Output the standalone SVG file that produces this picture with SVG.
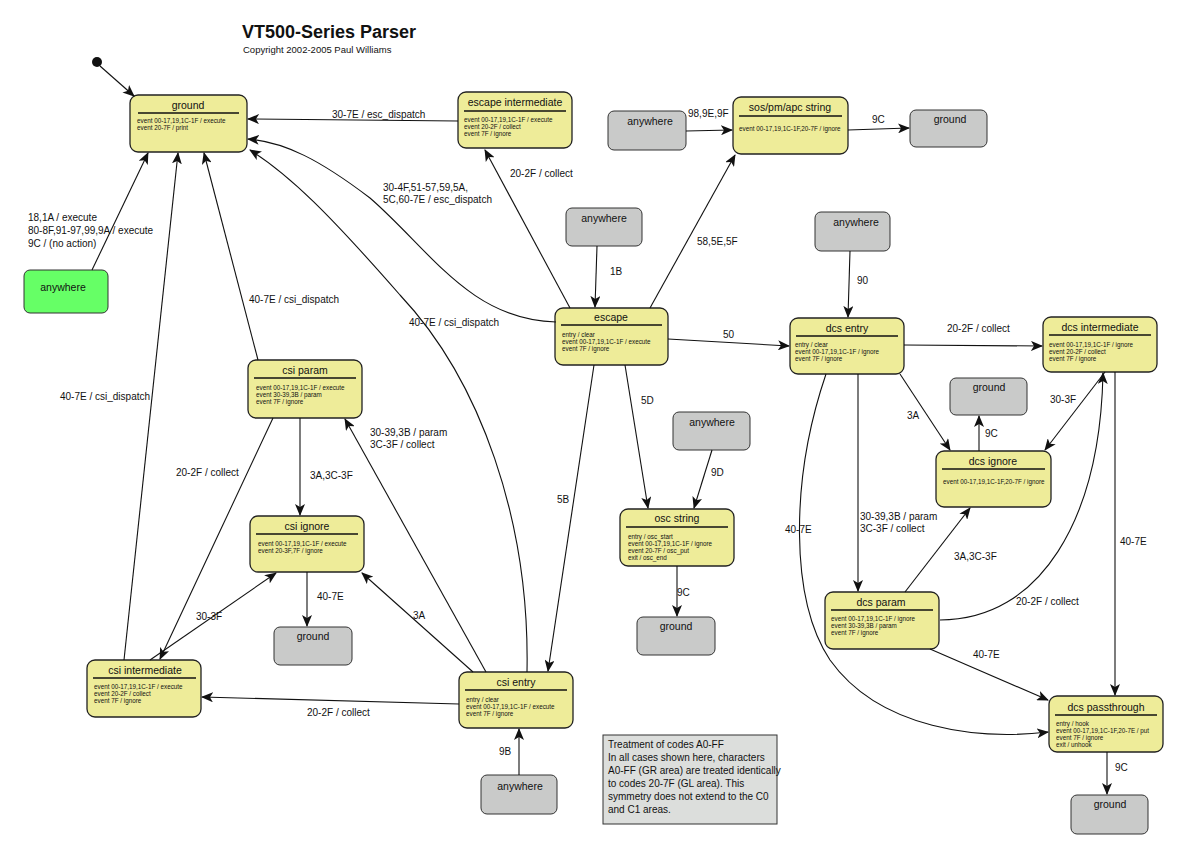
<svg xmlns="http://www.w3.org/2000/svg" width="1200" height="849" viewBox="0 0 1200 849">
<style>
text{font-family:"Liberation Sans",Arial,sans-serif;fill:#111}
.s{fill:#eeec99;stroke:#222;stroke-width:1.3}
.g{fill:#c9cac9;stroke:#333;stroke-width:1}
.t{font-size:10.5px;text-anchor:middle}
.b{font-size:6.3px}
.r{stroke:#111;stroke-width:1.3}
.l{font-size:10px}
.e path,.e line{fill:none;stroke:#111;stroke-width:1.1;marker-end:url(#a)}
</style>
<defs><marker id="a" viewBox="0 0 12 10" refX="11" refY="5" markerWidth="12" markerHeight="10" markerUnits="userSpaceOnUse" orient="auto"><path d="M0,0L12,5L0,10L3,5z" fill="#111"/></marker></defs>
<rect width="1200" height="849" fill="#fff"/>
<text x="242" y="38" font-size="18" font-weight="bold">VT500-Series Parser</text>
<text x="243" y="53" font-size="9.5">Copyright 2002-2005 Paul Williams</text>
<circle cx="97" cy="62" r="5" fill="#111"/>

<g id="ground"><rect class="s" x="130" y="95" width="117" height="57" rx="8"/><text class="t" x="188" y="109">ground</text><line class="r" x1="138" y1="113" x2="239" y2="113"/><text class="b" x="137" y="123">event 00-17,19,1C-1F / execute</text><text class="b" x="137" y="130">event 20-7F / print</text></g>
<g id="escint"><rect class="s" x="458" y="92" width="114" height="56" rx="8"/><text class="t" x="515" y="106">escape intermediate</text><line class="r" x1="464" y1="111" x2="566" y2="111"/><text class="b" x="464" y="122">event 00-17,19,1C-1F / execute</text><text class="b" x="464" y="129">event 20-2F / collect</text><text class="b" x="464" y="136">event 7F / ignore</text></g>
<g id="sos"><rect class="s" x="733" y="97" width="115" height="57" rx="8"/><text class="t" x="790" y="111">sos/pm/apc string</text><line class="r" x1="739" y1="116" x2="842" y2="116"/><text class="b" x="739" y="131">event 00-17,19,1C-1F,20-7F / ignore</text></g>
<g id="g2"><rect class="g" x="910" y="110" width="77" height="37" rx="6"/><text class="t" x="950" y="123">ground</text></g>
<g id="any1"><rect class="g" x="608" y="111" width="78" height="39" rx="6"/><text class="t" x="650" y="125">anywhere</text></g>
<g id="any2"><rect class="g" x="566" y="208" width="76" height="38" rx="6"/><text class="t" x="604" y="222">anywhere</text></g>
<g id="anyg"><rect x="24" y="270" width="84" height="43" rx="6" fill="#66ff66" stroke="#333"/><text class="t" x="63" y="291">anywhere</text></g>
<g id="any3"><rect class="g" x="815" y="212" width="75" height="39" rx="6"/><text class="t" x="856" y="226">anywhere</text></g>
<g id="escape"><rect class="s" x="555" y="308" width="113" height="57" rx="8"/><text class="t" x="611" y="321">escape</text><line class="r" x1="561" y1="325" x2="662" y2="325"/><text class="b" x="562" y="337">entry / clear</text><text class="b" x="562" y="344">event 00-17,19,1C-1F / execute</text><text class="b" x="562" y="351">event 7F / ignore</text></g>
<g id="dcsentry"><rect class="s" x="790" y="318" width="114" height="56" rx="8"/><text class="t" x="847" y="332">dcs entry</text><line class="r" x1="796" y1="336" x2="898" y2="336"/><text class="b" x="795" y="347">entry / clear</text><text class="b" x="795" y="354">event 00-17,19,1C-1F / ignore</text><text class="b" x="795" y="361">event 7F / ignore</text></g>
<g id="dcsint"><rect class="s" x="1043" y="317" width="114" height="55" rx="8"/><text class="t" x="1100" y="331">dcs intermediate</text><line class="r" x1="1049" y1="335" x2="1151" y2="335"/><text class="b" x="1049" y="347">event 00-17,19,1C-1F / ignore</text><text class="b" x="1049" y="354">event 20-2F / collect</text><text class="b" x="1049" y="361">event 7F / ignore</text></g>
<g id="g3"><rect class="g" x="950" y="378" width="77" height="37" rx="6"/><text class="t" x="989" y="391">ground</text></g>
<g id="dcsign"><rect class="s" x="936" y="451" width="115" height="56" rx="8"/><text class="t" x="993" y="465">dcs ignore</text><line class="r" x1="942" y1="469" x2="1045" y2="469"/><text class="b" x="943" y="484">event 00-17,19,1C-1F,20-7F / ignore</text></g>
<g id="csiparam"><rect class="s" x="248" y="360" width="114" height="58" rx="8"/><text class="t" x="305" y="374">csi param</text><line class="r" x1="254" y1="378" x2="356" y2="378"/><text class="b" x="256" y="390">event 00-17,19,1C-1F / execute</text><text class="b" x="256" y="397">event 30-39,3B / param</text><text class="b" x="256" y="404">event 7F / ignore</text></g>
<g id="any4"><rect class="g" x="673" y="412" width="77" height="38" rx="6"/><text class="t" x="712" y="426">anywhere</text></g>
<g id="csiign"><rect class="s" x="250" y="516" width="114" height="56" rx="8"/><text class="t" x="307" y="530">csi ignore</text><line class="r" x1="256" y1="534" x2="358" y2="534"/><text class="b" x="258" y="546">event 00-17,19,1C-1F / execute</text><text class="b" x="258" y="553">event 20-3F,7F / ignore</text></g>
<g id="osc"><rect class="s" x="620" y="509" width="114" height="57" rx="8"/><text class="t" x="677" y="522">osc string</text><line class="r" x1="626" y1="527" x2="728" y2="527"/><text class="b" x="628" y="539">entry / osc_start</text><text class="b" x="628" y="546">event 00-17,19,1C-1F / ignore</text><text class="b" x="628" y="553">event 20-7F / osc_put</text><text class="b" x="628" y="560">exit / osc_end</text></g>
<g id="g4"><rect class="g" x="274" y="627" width="78" height="38" rx="6"/><text class="t" x="313" y="640">ground</text></g>
<g id="g5"><rect class="g" x="637" y="617" width="78" height="38" rx="6"/><text class="t" x="676" y="630">ground</text></g>
<g id="dcsparam"><rect class="s" x="825" y="592" width="114" height="57" rx="8"/><text class="t" x="881" y="606">dcs param</text><line class="r" x1="831" y1="610" x2="933" y2="610"/><text class="b" x="831" y="621">event 00-17,19,1C-1F / ignore</text><text class="b" x="831" y="628">event 30-39,3B / param</text><text class="b" x="831" y="635">event 7F / ignore</text></g>
<g id="csiint"><rect class="s" x="87" y="660" width="114" height="57" rx="8"/><text class="t" x="145" y="674">csi intermediate</text><line class="r" x1="93" y1="678" x2="196" y2="678"/><text class="b" x="94" y="689">event 00-17,19,1C-1F / execute</text><text class="b" x="94" y="696">event 20-2F / collect</text><text class="b" x="94" y="703">event 7F / ignore</text></g>
<g id="csientry"><rect class="s" x="459" y="672" width="114" height="56" rx="8"/><text class="t" x="516" y="686">csi entry</text><line class="r" x1="465" y1="690" x2="567" y2="690"/><text class="b" x="466" y="702">entry / clear</text><text class="b" x="466" y="709">event 00-17,19,1C-1F / execute</text><text class="b" x="466" y="716">event 7F / ignore</text></g>
<g id="dcspass"><rect class="s" x="1049" y="696" width="114" height="56" rx="8"/><text class="t" x="1106" y="711">dcs passthrough</text><line class="r" x1="1055" y1="715" x2="1157" y2="715"/><text class="b" x="1056" y="726">entry / hook</text><text class="b" x="1056" y="733">event 00-17,19,1C-1F,20-7E / put</text><text class="b" x="1056" y="740">event 7F / ignore</text><text class="b" x="1056" y="747">exit / unhook</text></g>
<g id="any5"><rect class="g" x="481" y="775" width="76" height="39" rx="6"/><text class="t" x="520" y="790">anywhere</text></g>
<g id="g6"><rect class="g" x="1071" y="795" width="77" height="39" rx="6"/><text class="t" x="1110" y="808">ground</text></g>
<g id="note"><rect x="603" y="735" width="174" height="89" fill="#dcdedc" stroke="#333"/><text font-size="10" x="608" y="748">Treatment of codes A0-FF</text><text font-size="10" x="608" y="761">In all cases shown here, characters</text><text font-size="10" x="608" y="774">A0-FF (GR area) are treated identically</text><text font-size="10" x="608" y="787">to codes 20-7F (GL area). This</text><text font-size="10" x="608" y="800">symmetry does not extend to the C0</text><text font-size="10" x="608" y="813">and C1 areas.</text></g>

<g id="connectors" class="e">
<line x1="100" y1="66" x2="134" y2="96"/>
<line x1="458" y1="121" x2="248" y2="119"/>
<path d="M556,322 C470,320 430,250 370,198 C320,160 285,142 248,139"/>
<line x1="570" y1="308" x2="485" y2="150"/>
<line x1="597" y1="246" x2="595" y2="307"/>
<line x1="650" y1="308" x2="735" y2="155"/>
<line x1="686" y1="131" x2="732" y2="130"/>
<line x1="848" y1="130" x2="909" y2="128"/>
<line x1="668" y1="339" x2="789" y2="346"/>
<line x1="625" y1="365" x2="648" y2="508"/>
<line x1="594" y1="365" x2="548" y2="671"/>
<line x1="712" y1="450" x2="694" y2="508"/>
<line x1="677" y1="566" x2="677" y2="616"/>
<line x1="92" y1="270" x2="148" y2="153"/>
<line x1="124" y1="660" x2="178" y2="153"/>
<line x1="258" y1="360" x2="204" y2="153"/>
<path d="M527,672 C530,520 480,380 400,295 C330,215 290,175 250,150"/>
<line x1="486" y1="672" x2="345" y2="419"/>
<line x1="300" y1="418" x2="300" y2="515"/>
<line x1="273" y1="418" x2="160" y2="659"/>
<line x1="150" y1="660" x2="276" y2="573"/>
<line x1="307" y1="572" x2="307" y2="626"/>
<line x1="473" y1="672" x2="362" y2="573"/>
<line x1="459" y1="704" x2="202" y2="697"/>
<line x1="519" y1="775" x2="519" y2="729"/>
<line x1="850" y1="251" x2="848" y2="317"/>
<line x1="904" y1="345" x2="1042" y2="346"/>
<line x1="900" y1="374" x2="950" y2="450"/>
<line x1="1105" y1="372" x2="1045" y2="450"/>
<line x1="979" y1="451" x2="979" y2="416"/>
<line x1="858" y1="374" x2="858" y2="591"/>
<line x1="905" y1="592" x2="970" y2="508"/>
<path d="M940,620 C1040,620 1100,520 1103,373"/>
<line x1="1115" y1="372" x2="1115" y2="695"/>
<line x1="930" y1="649" x2="1048" y2="700"/>
<path d="M826,374 C790,480 790,600 830,660 C880,730 980,740 1048,732"/>
<line x1="1107" y1="752" x2="1107" y2="794"/>
</g>
<g id="labels" class="l">
<text class="l" x="332" y="118">30-7E / esc_dispatch</text>
<text class="l" x="383" y="191">30-4F,51-57,59,5A,</text><text class="l" x="383" y="203">5C,60-7E / esc_dispatch</text>
<text class="l" x="510" y="177">20-2F / collect</text>
<text class="l" x="610" y="275">1B</text>
<text class="l" x="697" y="245">58,5E,5F</text>
<text class="l" x="688" y="117">98,9E,9F</text>
<text class="l" x="872" y="123">9C</text>
<text class="l" x="723" y="338">50</text>
<text class="l" x="641" y="404">5D</text>
<text class="l" x="557" y="503">5B</text>
<text class="l" x="711" y="476">9D</text>
<text class="l" x="677" y="596">9C</text>
<text class="l" x="28" y="221">18,1A / execute</text><text class="l" x="28" y="234">80-8F,91-97,99,9A / execute</text><text class="l" x="28" y="247">9C / (no action)</text>
<text class="l" x="60" y="400">40-7E / csi_dispatch</text>
<text class="l" x="249" y="303">40-7E / csi_dispatch</text>
<text class="l" x="409" y="326">40-7E / csi_dispatch</text>
<text class="l" x="370" y="436">30-39,3B / param</text><text class="l" x="370" y="448">3C-3F / collect</text>
<text class="l" x="310" y="479">3A,3C-3F</text>
<text class="l" x="176" y="476">20-2F / collect</text>
<text class="l" x="196" y="620">30-3F</text>
<text class="l" x="317" y="600">40-7E</text>
<text class="l" x="413" y="619">3A</text>
<text class="l" x="307" y="716">20-2F / collect</text>
<text class="l" x="499" y="755">9B</text>
<text class="l" x="857" y="284">90</text>
<text class="l" x="947" y="332">20-2F / collect</text>
<text class="l" x="907" y="419">3A</text>
<text class="l" x="1050" y="403">30-3F</text>
<text class="l" x="985" y="437">9C</text>
<text class="l" x="860" y="520">30-39,3B / param</text><text class="l" x="860" y="532">3C-3F / collect</text>
<text class="l" x="954" y="560">3A,3C-3F</text>
<text class="l" x="1016" y="605">20-2F / collect</text>
<text class="l" x="1120" y="545">40-7E</text>
<text class="l" x="973" y="658">40-7E</text>
<text class="l" x="785" y="533">40-7E</text>
<text class="l" x="1115" y="771">9C</text>
</g>
</svg>
